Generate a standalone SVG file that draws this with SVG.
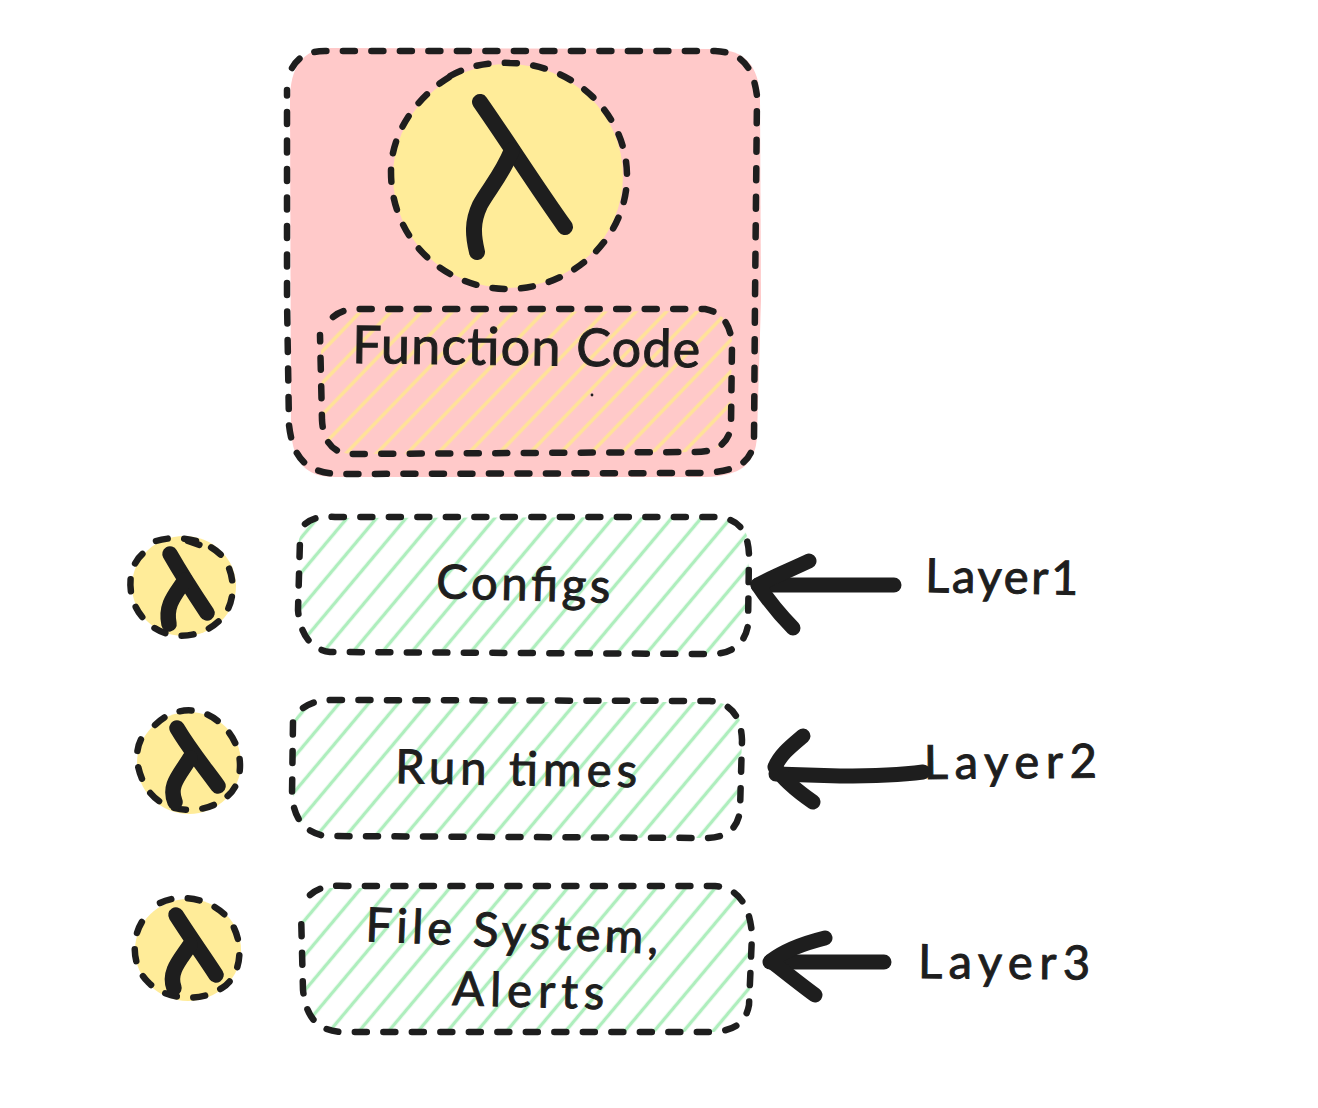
<svg xmlns="http://www.w3.org/2000/svg" width="1318" height="1108" viewBox="0 0 1318 1108">
  <style>
    .edge { fill: none; stroke: #1e1e1e; stroke-width: 6.5; stroke-linecap: round; stroke-linejoin: round; stroke-dasharray: 12 16.5; }
    .lam { fill: none; stroke: #1e1e1e; stroke-linecap: round; stroke-linejoin: round; }
    .arrow { fill: none; stroke: #1e1e1e; stroke-width: 15; stroke-linecap: round; stroke-linejoin: round; }
    .label { font-family: "Lato", "Noto Sans", sans-serif; fill: #1e1e1e; stroke: #1e1e1e; stroke-width: 1; }
    .big { font-size: 52px; }
    .mid { font-size: 47px; }
    .sun { fill: #ffec99; }
  </style>
  <defs>
    <pattern id="hatchGreen" patternUnits="userSpaceOnUse" width="22.6" height="22.6" patternTransform="rotate(40)">
      <line x1="11.3" y1="0" x2="11.3" y2="22.6" stroke="#aeeebd" stroke-width="3.4"/>
    </pattern>
    <pattern id="hatchYellow" patternUnits="userSpaceOnUse" width="22" height="22" patternTransform="translate(4 0) rotate(44)">
      <line x1="11" y1="0" x2="11" y2="22" stroke="#ffe396" stroke-width="3.4"/>
    </pattern>
  </defs>
  <rect width="1318" height="1108" fill="#ffffff"/>

  <g id="function-container">
    <path fill="#ffc9c9" d="M330 48 L715 49 C745 50 759 66 760 98 L761 300 L757 435 C756 465 740 476 705 477 L335 477 C305 477 293 462 291 430 L290 100 C290 68 302 49 330 48 Z"/>
    <path class="edge" d="M292 68 C298 57 308 51 325 51 L715 51 C740 52 753 65 757 96 L755 300 L754 440 C752 462 738 472 700 473 L340 474 C308 473 293 460 289 425 L287 300 L287 90"/>
  </g>

  <g id="lambda-main">
    <ellipse class="sun" cx="508" cy="176" rx="115" ry="112"/>
    <path class="edge" d="M450 76 C470 65 490 62 510 63 C575 64 627 115 627 176 C627 240 570 289 508 289 C445 289 391 240 391 172 C391 130 420 92 458 72"/>
    <path class="lam" stroke-width="16" d="M480 102 C510 145 535 185 565 227"/>
    <path class="lam" stroke-width="16" d="M512 150 C502 175 488 190 480 205 C472 222 473 235 477 252"/>
  </g>

  <g id="function-code">
    <path fill="url(#hatchYellow)" d="M345 313 L705 311 C725 313 732 325 732 345 L730 425 C728 445 715 451 700 452 L350 454 C332 452 323 440 322 425 L321 340 C322 322 330 314 345 313 Z"/>
    <path class="edge" d="M333 317 C340 311 348 309 360 309 L705 309 C722 312 731 325 732 345 L731 425 C729 445 715 452 695 452 L350 454 C332 453 323 440 322 420 L320 335"/>
    <text class="label big" x="352" y="363" textLength="348" lengthAdjust="spacing" transform="rotate(0.7 352 363)">Function Code</text>
    <circle cx="592" cy="395" r="1.4" fill="#1e1e1e"/>
  </g>

  <g id="lambda-configs">
    <ellipse class="sun" cx="184" cy="586" rx="52" ry="50"/>
    <path class="edge" d="M156 541 C175 535 205 538 222 556 C237 575 236 605 220 620 C200 640 165 642 145 620 C125 600 126 565 145 552"/>
    <path class="edge" d="M188 541 L200 545"/>
    <path class="lam" stroke-width="15.5" d="M170 554 C182 575 195 595 207 613"/>
    <path class="lam" stroke-width="15.5" d="M185 580 C175 595 165 605 169 624"/>
  </g>

  <g id="configs">
    <path fill="url(#hatchGreen)" d="M325 518 L720 517 C740 520 749 530 749 550 L747 625 C745 645 730 654 715 654 L330 653 C310 650 300 640 299 620 L298 545 C300 528 310 519 325 518 Z"/>
    <path class="edge" d="M305 524 C312 518 320 516 335 517 L715 517 C738 518 748 530 749 555 L748 625 C745 645 730 654 712 654 L330 652 C312 650 300 635 298 610 L300 540"/>
    <text class="label mid" x="436" y="598" textLength="174" lengthAdjust="spacing" transform="rotate(1.5 436 598)">Configs</text>
  </g>

  <g id="lambda-runtimes">
    <ellipse class="sun" cx="189" cy="763" rx="52" ry="51"/>
    <path class="edge" d="M155 725 C175 705 205 705 225 728 C245 748 245 785 225 798 C205 815 165 815 148 790 C135 770 132 745 148 730"/>
    <path class="lam" stroke-width="15.5" d="M177 728 C190 750 205 768 218 786"/>
    <path class="lam" stroke-width="15.5" d="M190 758 C180 775 168 785 175 802"/>
  </g>

  <g id="runtimes">
    <path fill="url(#hatchGreen)" d="M320 702 L715 702 C733 704 742 715 742 735 L740 810 C738 830 725 838 705 838 L325 837 C305 834 294 820 293 800 L292 730 C294 712 305 703 320 702 Z"/>
    <path class="edge" d="M303 708 C312 702 320 700 335 700 L710 701 C730 703 741 715 742 740 L740 810 C738 830 725 838 705 838 L325 836 C305 832 294 820 292 795 L293 722"/>
    <text class="label mid" x="395" y="783" textLength="242" lengthAdjust="spacing" transform="rotate(1 395 783)">Run times</text>
  </g>

  <g id="lambda-filesystem">
    <ellipse class="sun" cx="188" cy="950" rx="53" ry="51"/>
    <path class="edge" d="M160 903 C180 893 210 898 228 918 C245 940 243 975 222 988 C200 1003 165 1000 148 982 C130 965 130 930 150 912"/>
    <path class="lam" stroke-width="15.5" d="M176 915 C190 937 203 955 216 975"/>
    <path class="lam" stroke-width="15.5" d="M190 945 C180 960 168 972 174 988"/>
  </g>

  <g id="filesystem">
    <path fill="url(#hatchGreen)" d="M330 888 L720 888 C742 890 752 905 752 925 L750 1000 C748 1022 735 1032 715 1032 L335 1031 C315 1028 304 1015 303 995 L301 920 C303 898 315 889 330 888 Z"/>
    <path class="edge" d="M310 895 C318 888 328 885 345 886 L715 886 C738 888 750 905 752 935 L749 1005 C746 1022 735 1031 712 1032 L340 1032 C318 1030 306 1018 303 990 L301 912"/>
    <text class="label mid" x="365" y="941" textLength="293" lengthAdjust="spacing" transform="rotate(2.5 365 941)">File System,</text>
    <text class="label mid" x="452" y="1005" textLength="152" lengthAdjust="spacing" transform="rotate(1.5 452 1005)">Alerts</text>
  </g>

  <g id="connectors">
    <path class="arrow" d="M894 585 L758 585"/>
    <path class="arrow" d="M809 561 C790 570 772 577 758 585 C768 600 780 615 793 628"/>
    <path class="arrow" d="M923 772 C900 775 870 776 840 776 L776 774"/>
    <path class="arrow" d="M803 736 C790 747 780 755 775 767 C785 782 800 793 813 802"/>
    <path class="arrow" d="M884 962 L770 962"/>
    <path class="arrow" d="M825 938 C805 943 785 950 771 961 C785 972 800 984 815 995"/>
  </g>

  <g id="layer-labels">
    <text class="label mid" x="925" y="592" textLength="153" lengthAdjust="spacing" transform="rotate(1 925 592)">Layer1</text>
    <text class="label mid" x="924" y="779" textLength="173" lengthAdjust="spacing" transform="rotate(-0.5 924 779)">Layer2</text>
    <text class="label mid" x="918" y="978" textLength="172" lengthAdjust="spacing" transform="rotate(0.5 918 978)">Layer3</text>
  </g>
</svg>
